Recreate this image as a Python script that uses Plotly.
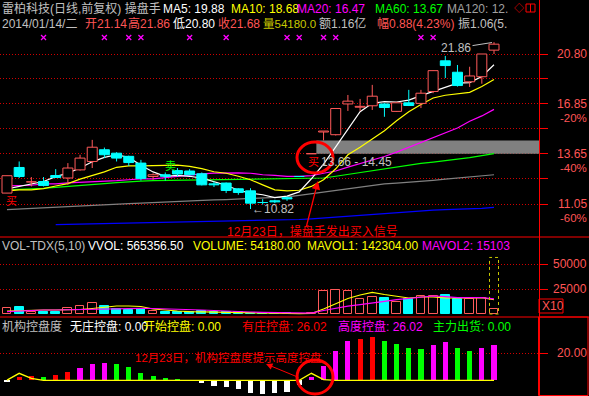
import math
import plotly.graph_objects as go

# ---------------- data ----------------
days = list(range(41))
open_ = [11.57, 12.89, 12.13, 12.15, 12.46, 12.33, 12.76, 13.22, 13.89, 13.69,
         13.51, 13.13, 12.41, 12.50, 12.72, 12.70, 12.55, 12.03, 12.07, 11.78,
         11.68, 11.15, 11.20, 11.35, 12.42, 13.66, 14.97, 14.80, 16.85, 16.62,
         16.72, 16.85, 16.33, 16.93, 16.89, 17.76, 20.21, 19.26, 18.50, 18.90, 21.14]
high = [12.45, 13.22, 12.38, 12.38, 12.80, 13.13, 13.60, 14.48, 14.02, 13.75,
        13.55, 13.31, 12.58, 12.62, 12.86, 12.80, 12.62, 12.15, 12.10, 11.80,
        11.81, 11.28, 11.25, 11.40, 12.42, 13.66, 15.03, 16.53, 17.50, 17.21,
        18.26, 16.90, 17.00, 17.88, 17.88, 19.39, 20.63, 19.86, 19.71, 20.80, 21.86]
low = [11.57, 12.33, 11.90, 11.90, 12.33, 11.98, 12.72, 12.86, 13.41, 13.22,
       12.98, 12.20, 12.24, 12.20, 12.41, 12.47, 11.95, 11.87, 11.57, 11.49,
       10.82, 11.02, 11.09, 11.20, 12.41, 13.66, 14.45, 14.75, 16.36, 16.36,
       16.43, 15.96, 16.30, 16.70, 16.56, 17.63, 18.80, 18.13, 18.10, 18.35, 20.80]
close = [12.45, 12.41, 12.16, 11.95, 12.36, 12.86, 13.41, 14.04, 13.60, 13.41,
         13.16, 12.31, 12.50, 12.42, 12.54, 12.50, 11.98, 11.98, 11.70, 11.60,
         11.09, 11.12, 11.15, 11.29, 12.41, 13.66, 15.03, 16.53, 17.05, 16.68,
         17.41, 16.60, 16.93, 16.74, 17.63, 19.39, 19.81, 18.21, 18.96, 20.80, 21.68]

ma5 = [11.78, 11.90, 12.03, 12.15, 12.40, 12.59, 12.86, 13.20, 13.45, 13.60,
       13.45, 13.01, 12.65, 12.42, 12.47, 12.42, 12.32, 12.14, 11.96, 11.71,
       11.57, 11.49, 11.35, 11.42, 11.63, 12.29, 13.07, 14.06, 15.11, 16.31,
       16.90, 17.01, 16.99, 17.12, 17.45, 17.77, 18.08, 18.39, 18.44, 18.92, 19.88]
ma10 = [11.68, 11.73, 11.73, 11.79, 11.92, 12.04, 12.27, 12.45, 12.65, 12.90,
        12.98, 12.98, 12.98, 13.02, 13.02, 12.95, 12.83, 12.66, 12.58, 12.42,
        12.24, 11.98, 11.73, 11.68, 11.71, 11.90, 12.24, 12.82, 13.60, 14.04,
        14.54, 15.05, 15.70, 16.30, 16.81, 17.28, 17.48, 17.56, 17.69, 18.13, 18.68]
ma20 = [11.93, 11.93, 11.96, 12.03, 12.03, 12.08, 12.10, 12.15, 12.15, 12.19,
        12.24, 12.28, 12.28, 12.35, 12.42, 12.50, 12.55, 12.59, 12.60, 12.60,
        12.58, 12.50, 12.47, 12.42, 12.41, 12.45, 12.58, 12.70, 12.91, 13.09,
        13.28, 13.50, 13.75, 14.04, 14.33, 14.61, 14.92, 15.22, 15.66, 16.02, 16.47]
ma60 = [11.73, 11.75, 11.78, 11.81, 11.85, 11.89, 11.93, 11.98, 12.04, 12.09,
        12.14, 12.17, 12.19, 12.20, 12.20, 12.21, 12.22, 12.23, 12.24, 12.24,
        12.25, 12.26, 12.27, 12.27, 12.28, 12.30, 12.33, 12.42, 12.52, 12.61,
        12.71, 12.80, 12.89, 13.00, 13.11, 13.18, 13.25, 13.35, 13.44, 13.55, 13.67]
ma120 = [10.79, 10.82, 10.85, 10.88, 10.92, 10.95, 10.97, 10.99, 11.02, 11.05,
         11.07, 11.09, 11.12, 11.15, 11.17, 11.20, 11.22, 11.24, 11.26, 11.28,
         11.30, 11.32, 11.35, 11.39, 11.46, 11.54, 11.63, 11.72, 11.80, 11.88,
         11.98, 12.03, 12.07, 12.11, 12.16, 12.21, 12.27, 12.33, 12.39, 12.45, 12.50]
ma250 = [None, None, None, None, 10.13, 10.14, 10.14, 10.15, 10.16, 10.17,
         10.18, 10.19, 10.21, 10.23, 10.24, 10.25, 10.26, 10.26, 10.27, 10.28,
         10.29, 10.30, 10.31, 10.33, 10.35, 10.38, 10.42, 10.46, 10.50, 10.55,
         10.59, 10.63, 10.68, 10.72, 10.75, 10.77, 10.79, 10.80, 10.81, 10.85, 10.89]

# volume in hands (the panel shows volume / 10, "X10")
volume = [57000, 67000, 23000, 23000, 23000, 57000, 83000, 107000, 80000, 50000,
          40000, 50000, 30000, 20000, 17000, 23000, 33000, 23000, 17000, 17000,
          13000, 10000, 10000, 10000, 5000, 6000, 230000, 240000, 230000, 155000,
          175000, 160000, 123000, 150000, 180000, 183000, 190000, 150000, 150000, 163000, 54180]
mavol5 = [30000, 35000, 40000, 40000, 40000, 40000, 45000, 55000, 70000, 80000,
          80000, 75000, 50000, 37000, 30000, 23000, 20000, 17000, 17000, 15000,
          12000, 8000, 7000, 5000, 4000, 5000, 50000, 100000, 155000, 190000,
          217000, 195000, 175000, 160000, 170000, 170000, 160000, 157000, 160000, 163000, 142304]
mavol10 = [23000, 30000, 35000, 40000, 40000, 42000, 45000, 50000, 55000, 57000,
           57000, 57000, 55000, 53000, 50000, 45000, 40000, 35000, 28000, 23000,
           20000, 16000, 13000, 11000, 9000, 8000, 35000, 58000, 78000, 94000,
           113000, 127000, 143000, 156000, 173000, 180000, 173000, 163000, 163000, 163000, 151030]
vvol_last = 565356.50
vol_scale = 10

# 机构控盘度 indicator
N = None
zhuang_you = [N, 2.2, 3.2, N, 3.9, 6.4, N, N, N, N, N, N, N, N, N, N, N, N, N, N,
              N, N, N, N, N, N, N, N, N, 30.6, 32.0, N, N, N, N, N, N, N, N, N, N]
zhuang_gaodu = [N, N, N, N, N, N, 9.4, 12.1, 13.1, N, N, N, N, N, N, N, N, N, N, N,
                N, N, N, N, N, 2.7, 10.3, 21.7, 29.1, N, N, N, N, N, N, 26.1, 28.4, N, N, 23.9, 26.02]
zhuang_chuhuo = [N, N, N, 2.7, N, N, N, N, N, 12.1, 10.1, 5.6, 3.2, 1.7, 1.0, N, N, N, N, N,
                 N, N, N, N, N, N, N, N, N, N, N, 29.1, 26.9, 23.9, 23.2, N, N, 23.9, 21.7, N, N]
zhuang_wu = [-1.0, N, N, N, N, N, N, N, N, N, N, N, N, N, N, N, -2.2, -4.0, -5.2, -6.5,
             -9.6, -10.1, -9.6, -8.4, -3.5, N, N, N, N, N, N, N, N, N, N, N, N, N, N, N, N]
kaishi = [0.2, 5.2, 1.5, 0, 0, 0, 0, 0, 0, 0, 0, 0, 0, 0, 0, 0, 0, 0, 0, 0,
          0, 0, 0, 0, 0, 5.2, 0.5, 0, 0, 0, 0, 0, 0, 0, 0, 0, 0, 0, 0, 0, 0]

signal_days = [3, 8, 10, 11, 15, 18, 23, 24, 26, 27, 34, 35]
signal_level = 22.3
buy_day_early = 0
sell_day = 13.4
gap_day = 25
gap_low, gap_high = 13.66, 14.45
price_grid = [20.80, 18.72, 16.85, 15.17, 13.65, 12.29, 11.05]
price_labels = {20.80: ("20.80", ""), 16.85: ("16.85", "-20%"),
                13.65: ("13.65", "-40%"), 11.05: ("11.05", "-60%")}
vol_grid = [25000, 50000]
ind_grid = [20]

# ---------------- geometry ----------------
W, H = 589, 396
PW = 539          # plot-area width in px (right axis at x=539)
STEP, X0 = 12.175, 7
x_range = [-X0 / STEP, (PW - X0) / STEP]
k = (math.log10(20.80) - math.log10(11.05)) / 150.0
main_range = [math.log10(20.80) - (237 - 54) * k, math.log10(20.80) + 54 * k]

def pxx(x):
    return x / PW

def pxy(y):
    return 1 - y / H

D_MAIN = [pxy(237), 1]
D_VOL = [pxy(317), pxy(237)]
D_IND = [0, pxy(317)]

UP = '#ff5a5a'
DN = '#00ffff'
RED_TXT = '#ff5555'
GRID = '#d00000'
FONT = 'Liberation Sans, Arial, Noto Sans CJK SC, sans-serif'

fig = go.Figure()

# gap band
band_x1 = x_range[1]
fig.add_trace(go.Scatter(x=[gap_day + 0.41, band_x1, band_x1, gap_day + 0.41, gap_day + 0.41],
                         y=[gap_low, gap_low, gap_high, gap_high, gap_low],
                         fill='toself', fillcolor='#808080', line=dict(width=0),
                         mode='lines', hoverinfo='skip'))

# moving averages
for arr, col in [(ma250, '#0000ff'), (ma120, '#808080'), (ma60, '#00ff00'),
                 (ma20, '#ff00ff'), (ma10, '#ffff00'), (ma5, '#ffffff')]:
    fig.add_trace(go.Scatter(x=days, y=arr, mode='lines', line=dict(color=col, width=1.2),
                             hoverinfo='skip'))

up = [i for i in days if close[i] >= open_[i]]
dn = [i for i in days if close[i] < open_[i]]

def wick_xy(idx):
    xs, ys = [], []
    for i in idx:
        xs += [i, i, None]
        ys += [low[i], high[i], None]
    return xs, ys

def body_xy(idx, hw):
    xs, ys = [], []
    for i in idx:
        lo, hi = min(open_[i], close[i]), max(open_[i], close[i])
        xs += [i - hw, i + hw, i + hw, i - hw, i - hw, None]
        ys += [lo, lo, hi, hi, lo, None]
    return xs, ys

for idx, col, fillc in [(up, UP, '#000000'), (dn, DN, DN)]:
    wx, wy = wick_xy(idx)
    fig.add_trace(go.Scatter(x=wx, y=wy, mode='lines', line=dict(color=col, width=1),
                             hoverinfo='skip'))
    bx, by = body_xy(idx, 0.41)
    fig.add_trace(go.Scatter(x=bx, y=by, mode='lines', fill='toself', fillcolor=fillc,
                             line=dict(color=col, width=1), hoverinfo='skip'))

# signal crosses at the top
fig.add_trace(go.Scatter(x=signal_days, y=[signal_level] * len(signal_days), mode='markers',
                         marker=dict(symbol='x-thin', size=5, line=dict(color='#ff00ff', width=1.3)),
                         hoverinfo='skip'))

# ---------------- volume panel ----------------
vcol_fill = ['#000000' if close[i] >= open_[i] else DN for i in days]
vcol_line = [UP if close[i] >= open_[i] else DN for i in days]
fig.add_trace(go.Bar(x=days, y=[v / vol_scale for v in volume], width=0.72, yaxis='y2',
                     marker=dict(color=vcol_fill, line=dict(color=vcol_line, width=1)),
                     hoverinfo='skip'))
fig.add_trace(go.Scatter(x=days, y=[v / vol_scale for v in mavol5], yaxis='y2', mode='lines',
                         line=dict(color='#ffff00', width=1.2), hoverinfo='skip'))
fig.add_trace(go.Scatter(x=days, y=[v / vol_scale for v in mavol10], yaxis='y2', mode='lines',
                         line=dict(color='#ff00ff', width=1.2), hoverinfo='skip'))
last = days[-1]
vv = vvol_last / vol_scale
fig.add_trace(go.Scatter(x=[last - 0.37, last + 0.37, last + 0.37, last - 0.37, last - 0.37],
                         y=[0, 0, vv, vv, 0], yaxis='y2', mode='lines',
                         line=dict(color='#c8c800', width=1, dash='dot'), hoverinfo='skip'))

# ---------------- indicator panel ----------------
for arr, col in [(zhuang_wu, '#ffffff'), (zhuang_chuhuo, '#00ff00'),
                 (zhuang_you, '#ff0000'), (zhuang_gaodu, '#ff00ff')]:
    fig.add_trace(go.Bar(x=days, y=arr, width=0.42, yaxis='y3', marker=dict(color=col, line=dict(width=0)),
                         hoverinfo='skip'))
fig.add_trace(go.Scatter(x=days, y=kaishi, yaxis='y3', mode='lines',
                         line=dict(color='#ffff00', width=1.3), hoverinfo='skip'))

# ---------------- layout ----------------
axis_common = dict(side='right', showline=True, linecolor='#ff0000', linewidth=1,
                   showticklabels=False, ticks='outside', ticklen=8, tickcolor='#ff0000',
                   tickwidth=1, showgrid=True, gridcolor=GRID, griddash='1px,2px',
                   gridwidth=1, zeroline=False, fixedrange=True, anchor='x')
fig.update_layout(
    width=W, height=H, margin=dict(l=0, r=W - PW, t=0, b=0),
    paper_bgcolor='#000000', plot_bgcolor='#000000', showlegend=False,
    barmode='overlay', bargap=0,
    xaxis=dict(range=x_range, visible=False, fixedrange=True, domain=[0, 1]),
    yaxis=dict(type='log', range=main_range, domain=D_MAIN, tickvals=price_grid, **axis_common),
    yaxis2=dict(range=[-3000, 77000], domain=D_VOL, tickvals=vol_grid, **axis_common),
    yaxis3=dict(range=[-11.6, 46.9], domain=D_IND, tickvals=ind_grid, **axis_common),
    font=dict(family=FONT, size=12, color='#c0c0c0'),
)

ann = []
shapes = []

def txt(x, y, text, color, size=12, anchor='left', family=FONT):
    ann.append(dict(xref='paper', yref='paper', x=pxx(x), y=pxy(y), text=text, showarrow=False,
                    xanchor=anchor, yanchor='middle', borderpad=0, borderwidth=0,
                    font=dict(color=color, size=size, family=family)))

# header line 1
txt(2, 9, '雷柏科技(日线,前复权) 操盘手', '#c0c0c0')
txt(163, 9, f'MA5: {ma5[-1]:.2f}', '#ffffff')
txt(231, 9, f'MA10: {ma10[-1]:.2f}', '#ffff00')
txt(297, 9, f'MA20: {ma20[-1]:.2f}', '#ff00ff')
txt(375, 9, f'MA60: {ma60[-1]:.2f}', '#00ff00')
txt(447, 9, f'MA120: {ma120[-1]:.2f}'[:-2], '#a0a0a0')
txt(514, 9, '◇', '#ff0000', size=10)
# header line 2
chg = close[-1] - close[-2]
txt(2, 24, '2014/01/14/二', '#c0c0c0')
txt(85, 24, f'开{open_[-1]:.2f}', RED_TXT)
txt(128, 24, f'高{high[-1]:.2f}', RED_TXT)
txt(173, 24, f'低{low[-1]:.2f}', '#ffffff')
txt(218, 24, f'收{close[-1]:.2f}', RED_TXT)
txt(263, 24, f'量{volume[-1]:.1f}', '#c8c800', size=11.5)
txt(319, 24, '额1.16亿', '#c0c0c0')
txt(377, 24, f'幅{chg:.2f}({chg / close[-2] * 100:.2f}%)', RED_TXT)
txt(458, 24, '振1.06(5.', '#c0c0c0')

# right price labels
for p, (lab, pct) in price_labels.items():
    yp = 54 + (math.log10(20.80) - math.log10(p)) / k
    txt(587, yp, lab, RED_TXT, anchor='right')
    if pct:
        txt(587, yp + 14, pct, RED_TXT, size=11.5, anchor='right')

# main chart annotations
ann.append(dict(xref='x', yref='y', x=days[-1], y=math.log10(high[-1]), text='21.86',
                showarrow=True, ax=-38, ay=6, arrowhead=0, arrowwidth=1, arrowcolor='#c0c0c0',
                standoff=2, font=dict(color='#c0c0c0', size=12, family=FONT)))
lo_day = min(days, key=lambda i: low[i])
ann.append(dict(xref='x', yref='y', x=lo_day - 0.05, y=math.log10(low[lo_day]),
                text=f'←{low[lo_day]:.2f}', showarrow=False, xanchor='left', yanchor='middle',
                font=dict(color='#c0c0c0', size=12, family=FONT)))
ann.append(dict(xref='x', yref='y', x=gap_day + 0.6, y=math.log10(gap_low), yshift=-8,
                text=f'{gap_low:.2f} - {gap_high:.2f}', showarrow=False, xanchor='left',
                yanchor='middle', font=dict(color='#c0c0c0', size=12, family=FONT)))
ann.append(dict(xref='x', yref='y', x=gap_day + 0.2, y=math.log10(gap_low), yshift=-8,
                text='买', showarrow=False, xanchor='center', yanchor='middle',
                font=dict(color='#ff0000', size=11, family=FONT)))
ann.append(dict(xref='x', yref='y', x=buy_day_early + 0.4, y=math.log10(low[buy_day_early]), yshift=-8,
                text='买', showarrow=False, xanchor='center', yanchor='middle',
                font=dict(color='#ff0000', size=11, family=FONT)))
ann.append(dict(xref='x', yref='y', x=sell_day, y=math.log10(high[13]), yshift=6,
                text='卖', showarrow=False, xanchor='center', yanchor='middle',
                font=dict(color='#00ff00', size=11, family=FONT)))
txt(227, 231, '12月23日，操盘手发出买入信号', '#ff0000')
ann.append(dict(xref='paper', yref='paper', x=pxx(318), y=pxy(181), text='', showarrow=True,
                ax=-12, ay=47, arrowhead=2, arrowsize=1.3, arrowwidth=1.3, arrowcolor='#ff0000'))
shapes.append(dict(type='circle', xref='paper', yref='paper', x0=pxx(297), x1=pxx(333),
                   y0=pxy(173), y1=pxy(142), line=dict(color='#ff0000', width=3)))

# volume header + labels
txt(2, 246, 'VOL-TDX(5,10)', '#c0c0c0')
txt(88, 246, f'VVOL: {vvol_last:.2f}', '#ffffff')
txt(193, 246, f'VOLUME: {volume[-1]:.2f}', '#ffff00')
txt(307, 246, f'MAVOL1: {mavol5[-1]:.2f}', '#ffff00')
txt(422, 246, f'MAVOL2: {mavol10[-1]:.2f}'[:13], '#ff00ff')
for v in vol_grid:
    txt(587, 314 - v / 1000, f'{v}', RED_TXT, anchor='right')
txt(542, 306, 'X10', RED_TXT)
shapes.append(dict(type='rect', xref='paper', yref='paper', x0=pxx(539), x1=pxx(563),
                   y0=pxy(313), y1=pxy(299), line=dict(color='#ff0000', width=1)))

# indicator header + labels
txt(2, 326, '机构控盘度', '#c0c0c0')
txt(70, 326, '无庄控盘: 0.00', '#ffffff')
txt(143, 326, '开始控盘: 0.00', '#ffff00')
txt(242, 326, f'有庄控盘: {zhuang_gaodu[-1]:.2f}', '#ff0000')
txt(338, 326, f'高度控盘: {zhuang_gaodu[-1]:.2f}', '#ff00ff')
txt(433, 326, '主力出货: 0.00', '#00ff00')
txt(587, 353, '20.00', RED_TXT, anchor='right')
txt(135, 357, '12月23日，机构控盘度提示高度控盘', '#ff0000', size=11.5)
ann.append(dict(xref='paper', yref='paper', x=pxx(266), y=pxy(364), text='', showarrow=True,
                ax=34, ay=14, arrowhead=2, arrowsize=1.3, arrowwidth=1, arrowcolor='#ff0000'))
shapes.append(dict(type='circle', xref='paper', yref='paper', x0=pxx(297), x1=pxx(333),
                   y0=pxy(394), y1=pxy(360), line=dict(color='#ff0000', width=3)))
shapes.append(dict(type='rect', xref='paper', yref='paper', x0=pxx(538.5), x1=pxx(588),
                   y0=pxy(395.5), y1=pxy(317), line=dict(color='#ff0000', width=1)))

# panel separators, header icon
for yy in (237, 317):
    shapes.append(dict(type='line', xref='paper', yref='paper', x0=0, x1=W / PW,
                       y0=pxy(yy), y1=pxy(yy), line=dict(color='#ff0000', width=1)))
shapes.append(dict(type='rect', xref='paper', yref='paper', x0=pxx(526), x1=pxx(535),
                   y0=pxy(12), y1=pxy(4), line=dict(color='#ff0000', width=1)))
shapes.append(dict(type='line', xref='paper', yref='paper', x0=pxx(530.5), x1=pxx(530.5),
                   y0=pxy(12), y1=pxy(4), line=dict(color='#ff0000', width=1)))

fig.update_layout(annotations=ann, shapes=shapes)
fig.write_html('out.html')
